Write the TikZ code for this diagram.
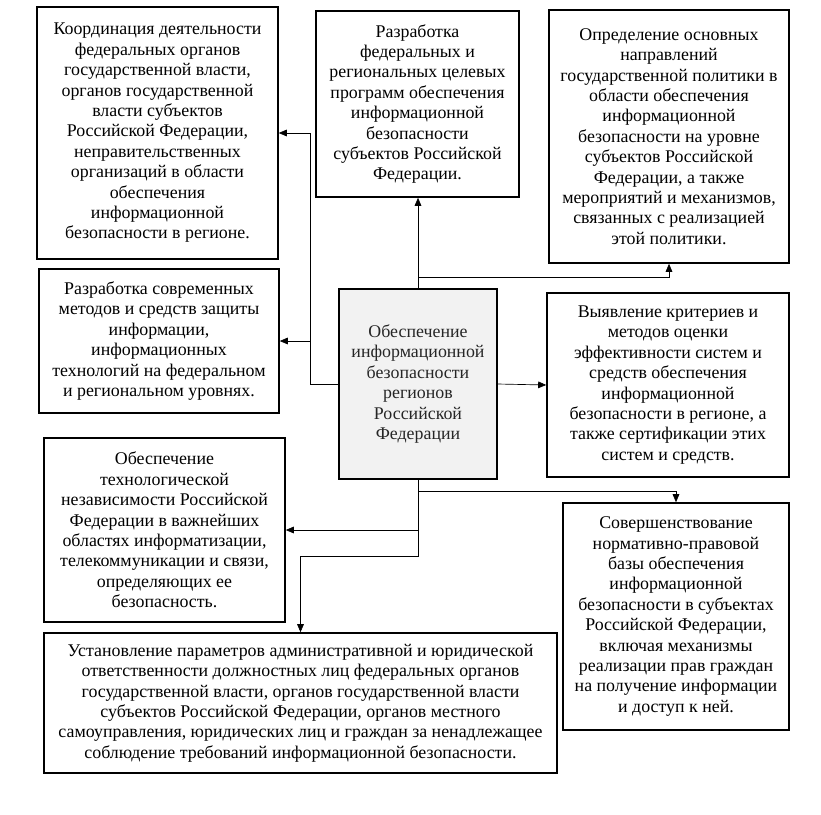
\documentclass[tikz,border=0pt]{standalone}
\usepackage{fontspec}
\setmainfont{Liberation Serif}
\usepackage{tikz}
\usetikzlibrary{arrows.meta, positioning}
\usepackage{xcolor}
\definecolor{mainfill}{HTML}{F2F2F2}
\tikzset{%
	every box/.style={
		draw,
		line width=1.2pt,
		align=center,
		inner sep=0pt,
		font=\fontsize{13.4}{15.3}\selectfont
	},
	main box/.style={
		every box,
		fill=mainfill,
		line width=0.9pt,
		text=black!85
	},
	link/.style={
		line width=0.5pt,
		-{Triangle[length=6pt,width=5pt]}
	},
}

\begin{document}
\begin{tikzpicture}[x=0.75pt,y=-0.75pt]
			\useasboundingbox (0,0) rectangle (821,814);
			
			% Central node
			\node[main box, minimum width=158*0.75pt, minimum height=190*0.75pt] (center) at (418,384)
				{Обеспечение\\информационной\\безопасности\\регионов\\Российской\\Федерации};
			
			% Left column
			\node[every box, minimum width=241*0.75pt, minimum height=252*0.75pt] (coord) at (157.5,133)
				{Координация деятельности\\федеральных органов\\государственной власти,\\органов государственной\\власти субъектов\\Российской Федерации,\\неправительственных\\организаций в области\\обеспечения\\информационной\\безопасности в регионе.};
			\node[every box, minimum width=240*0.75pt, minimum height=144*0.75pt] (methods) at (159,341)
				{Разработка современных\\методов и средств защиты\\информации,\\информационных\\технологий на федеральном\\и региональном уровнях.};
			\node[every box, minimum width=241*0.75pt, minimum height=184*0.75pt] (indep) at (164.5,530)
				{Обеспечение\\технологической\\независимости Российской\\Федерации в важнейших\\областях информатизации,\\телекоммуникации и связи,\\определяющих ее\\безопасность.};
			
			% Top middle
			\node[every box, minimum width=203*0.75pt, minimum height=186*0.75pt] (programs) at (417.5,104)
				{Разработка\\федеральных и\\региональных целевых\\программ обеспечения\\информационной\\безопасности\\субъектов Российской\\Федерации.};
			
			% Right column
			\node[every box, minimum width=240*0.75pt, minimum height=253*0.75pt] (policy) at (669,136.5)
				{Определение основных\\направлений\\государственной политики в\\области обеспечения\\информационной\\безопасности на уровне\\субъектов Российской\\Федерации, а также\\мероприятий и механизмов,\\связанных с реализацией\\этой политики.};
			\node[every box, minimum width=242*0.75pt, minimum height=184*0.75pt] (criteria) at (668,385)
				{Выявление критериев и\\методов оценки\\эффективности систем и\\средств обеспечения\\информационной\\безопасности в регионе, а\\также сертификации этих\\систем и средств.};
			\node[every box, minimum width=226*0.75pt, minimum height=227*0.75pt] (law) at (676,616.5)
				{Совершенствование\\нормативно-правовой\\базы обеспечения\\информационной\\безопасности в субъектах\\Российской Федерации,\\включая механизмы\\реализации прав граждан\\на получение информации\\и доступ к ней.};
			
			% Bottom wide node
			\node[every box, minimum width=513*0.75pt, minimum height=140*0.75pt] (resp) at (300.5,703)
				{Установление параметров административной и юридической\\ответственности должностных лиц федеральных органов\\государственной власти, органов государственной власти\\субъектов Российской Федерации, органов местного\\самоуправления, юридических лиц и граждан за ненадлежащее\\соблюдение требований информационной безопасности.};
			
			% Junctions
			\coordinate (left) at (310,384);
			\coordinate (up) at (418,277);
			\coordinate (down) at (418,491);
			\coordinate (low) at (418,556);
			
			% Connectors
			\draw[link] (center.west) -- (left) |- (coord.east);
			\draw[link] (left) |- (methods.east);
			\draw[link] (center.north) -- (center.north |- programs.south);
			\draw[link] (up) -| (policy.south);
			\draw[link] (center.east) -- (criteria.west);
			\draw[link] (center.south) -- (down) -| (law.north);
			\draw[link] (down) |- (indep.east);
			\draw[link] (down) -- (low) -| (resp.north);
			
		\end{tikzpicture}
\end{document}
